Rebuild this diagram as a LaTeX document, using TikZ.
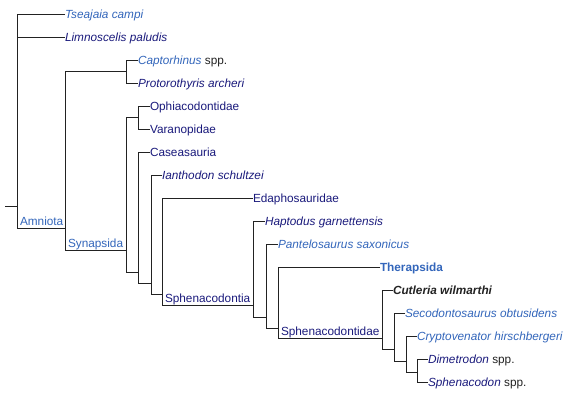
\documentclass[tikz,border=0pt]{standalone}
\usepackage{fontspec}
\setmainfont{Liberation Sans}
\definecolor{wblue}{HTML}{3366BB}
\definecolor{wnavy}{HTML}{1A1A7C}
\definecolor{wdark}{HTML}{222222}
\begin{document}
\begin{tikzpicture}[x=1pt,y=-1pt,
  every node/.style={font=\fontsize{11.8pt}{14pt}\selectfont},
  leaf/.style={anchor=west,inner sep=0pt,outer sep=0pt,text height=8.45pt,text depth=0pt},
  clab/.style={anchor=base west,inner sep=0pt,outer sep=0pt},
  br/.style={draw=wdark,line width=1pt},
  lb/.style={text=wblue},
  ln/.style={text=wnavy}]
\fill[white] (0,0) rectangle (572,400);
\useasboundingbox (0,0) rectangle (572,400);
% internal junctions
\coordinate (r0) at (5,206);
\coordinate (root) at (17,206);
\coordinate (amn) at (65,228);
\coordinate (capc) at (126,71.5);
\coordinate (syn) at (126,250);
\coordinate (ophc) at (138,117.5);
\coordinate (n1) at (138,272);
\coordinate (n2) at (151,283);
\coordinate (n3) at (162,294);
\coordinate (sphtia) at (253,305);
\coordinate (n4) at (266,317);
\coordinate (n5) at (278,328);
\coordinate (sphdae) at (382,338);
\coordinate (n6) at (394,349);
\coordinate (n7) at (406,361);
\coordinate (n8) at (417,372);
% leaves
\node[leaf,lb] (tse) at (65,14) {\itshape Tseajaia campi};
\node[leaf,ln] (lim) at (65,37) {\itshape Limnoscelis paludis};
\node[leaf,lb] (capt) at (138,60) {{\itshape Captorhinus}\ \textcolor{wdark}{spp.}};
\node[leaf,ln] (prot) at (138,83) {\itshape Protorothyris archeri};
\node[leaf,ln] (oph) at (150,106) {Ophiacodontidae};
\node[leaf,ln] (var) at (150,129) {Varanopidae};
\node[leaf,ln] (case) at (150,152) {Caseasauria};
\node[leaf,ln] (ian) at (162,175) {\itshape Ianthodon schultzei};
\node[leaf,ln] (eda) at (253,198) {Edaphosauridae};
\node[leaf,ln] (hap) at (265,221) {\itshape Haptodus garnettensis};
\node[leaf,lb] (pan) at (278,244) {\itshape Pantelosaurus saxonicus};
\node[leaf,lb] (ther) at (380,267) {\bfseries Therapsida};
\node[leaf,text=wdark] (cut) at (393,290) {\bfseries\itshape Cutleria wilmarthi};
\node[leaf,lb] (sec) at (405,313) {\itshape Secodontosaurus obtusidens};
\node[leaf,lb] (cry) at (417,336) {\itshape Cryptovenator hirschbergeri};
\node[leaf,ln] (dim) at (428,359) {{\itshape Dimetrodon}\ \textcolor{wdark}{spp.}};
\node[leaf,ln] (sph) at (428,382) {{\itshape Sphenacodon}\ \textcolor{wdark}{spp.}};
% clade labels
\node[clab,lb] (lamn) at (20,225.5) {Amniota};
\node[clab,lb] (lsyn) at (68,247.5) {Synapsida};
\node[clab,ln] (lsphtia) at (165,302.5) {Sphenacodontia};
\node[clab,ln] (lsphdae) at (281,335.5) {Sphenacodontidae};
% branches
\draw[br] (r0) -- (root);
\draw[br] (tse.west) -| (root);
\draw[br] (lim.west) -| (root);
\draw[br] (amn) -| (root);
\draw[br] (capc) -| (amn);
\draw[br] (syn) -| (amn);
\draw[br] (capt.west) -| (capc);
\draw[br] (prot.west) -| (capc);
\draw[br] (ophc) -| (syn);
\draw[br] (n1) -| (syn);
\draw[br] (oph.west) -| (ophc);
\draw[br] (var.west) -| (ophc);
\draw[br] (case.west) -| (n1);
\draw[br] (n2) -| (n1);
\draw[br] (ian.west) -| (n2);
\draw[br] (n3) -| (n2);
\draw[br] (eda.west) -| (n3);
\draw[br] (sphtia) -| (n3);
\draw[br] (hap.west) -| (sphtia);
\draw[br] (n4) -| (sphtia);
\draw[br] (pan.west) -| (n4);
\draw[br] (n5) -| (n4);
\draw[br] (ther.west) -| (n5);
\draw[br] (sphdae) -| (n5);
\draw[br] (cut.west) -| (sphdae);
\draw[br] (n6) -| (sphdae);
\draw[br] (sec.west) -| (n6);
\draw[br] (n7) -| (n6);
\draw[br] (cry.west) -| (n7);
\draw[br] (n8) -| (n7);
\draw[br] (dim.west) -| (n8);
\draw[br] (sph.west) -| (n8);
\end{tikzpicture}
\end{document}
